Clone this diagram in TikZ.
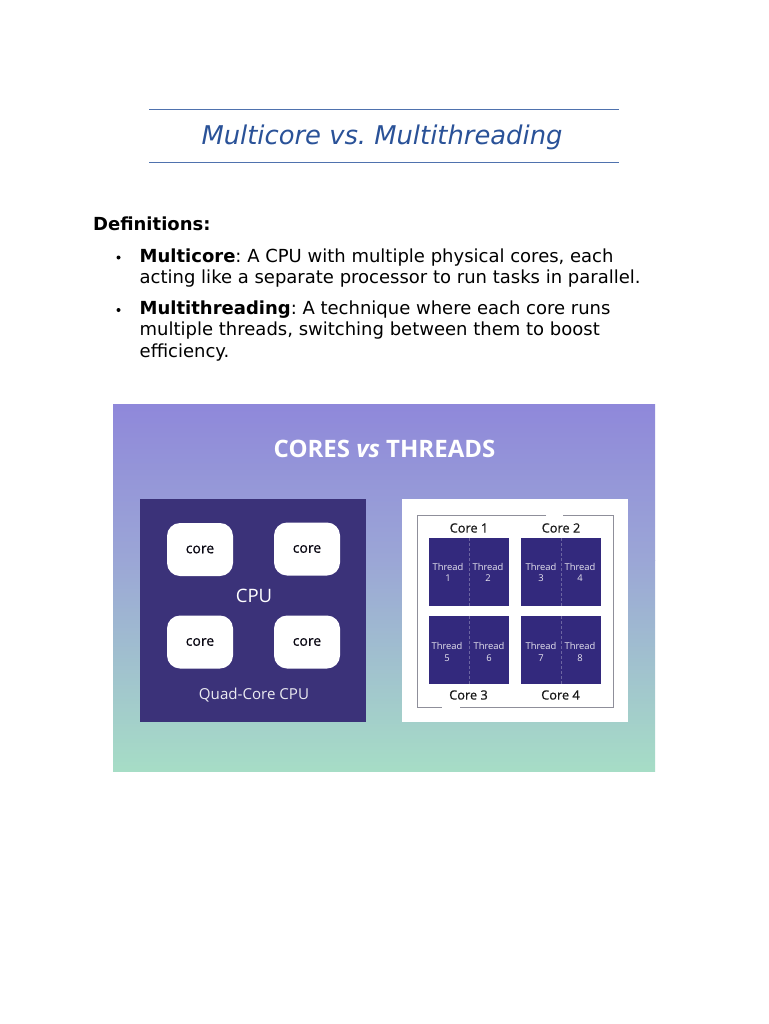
\documentclass[tikz,border=0pt]{standalone}
\usepackage{fontspec}
\setmainfont{DejaVu Sans}
\newfontfamily\openfont{Open Sans}
\newfontfamily\openheavy[FakeBold=0.6]{Open Sans}
\frenchspacing
\definecolor{titleblue}{HTML}{2A5298}
\definecolor{rulecolor}{HTML}{4F72AE}
\definecolor{panelblue}{HTML}{3B3279}
\definecolor{threadblue}{HTML}{33297D}
\definecolor{framegray}{HTML}{8F8F9A}
\definecolor{gradtop}{HTML}{8F88DA}
\definecolor{gradmid}{HTML}{9BA6D6}
\definecolor{gradbot}{HTML}{A6DDC6}
\tikzset{
    bodytext/.style={anchor=base west, inner sep=0pt, font=\fontsize{18}{22}\selectfont},
    bulletmark/.style={circle, fill=black, inner sep=0pt, minimum size=4pt},
    corebox/.style={fill=white, rounded corners=13pt, minimum width=66pt, minimum height=53pt, inner sep=0pt, text=black!85!panelblue, font=\openheavy\fontsize{14}{16}\selectfont},
    threadbox/.style={fill=threadblue, minimum width=80pt, minimum height=68pt, inner sep=0pt},
    threadtext/.style={text=white!88!threadblue, align=center, inner sep=0pt, font=\openfont\fontsize{9.4}{11.5}\selectfont},
    corelabel/.style={text=black!90, inner sep=0pt, font=\openheavy\fontsize{12.8}{14}\selectfont},
    threadsplit/.style={draw=white!28!threadblue, densely dashed, line width=0.4pt},
}
\begin{document}
\begin{tikzpicture}[x=1pt, y=-1pt]
    \useasboundingbox (0,0) rectangle (768,1024);
    \fill[white] (0,0) rectangle (768,1024);

    % heading
    \coordinate (ruleAl) at (149,109.5);
    \coordinate (ruleAr) at (618.5,109.5);
    \coordinate (ruleBl) at (149,163);
    \coordinate (ruleBr) at (618.5,163);
    \draw[rulecolor, line width=1pt] (ruleAl) -- (ruleAr);
    \draw[rulecolor, line width=1pt] (ruleBl) -- (ruleBr);
    \node[text=titleblue, inner sep=0pt, font=\itshape\fontsize{25.8}{28}\selectfont] (heading) at (382,137.5) {Multicore vs. Multithreading};

    % definitions
    \node[bodytext] (defs) at (93,230) {\textbf{Definitions:}};
    \node[bulletmark] (bulletA) at (118.5,257.5) {};
    \node[bodytext] (coreA) at (139.5,262) {\textbf{Multicore}: A CPU with multiple physical cores, each};
    \node[bodytext] (coreB) at (139.5,283) {acting like a separate processor to run tasks in parallel.};
    \node[bulletmark] (bulletB) at (118.5,310) {};
    \node[bodytext] (threadA) at (139.5,314) {\textbf{Multithreading}: A technique where each core runs};
    \node[bodytext] (threadB) at (139.5,335) {multiple threads, switching between them to boost};
    \node[bodytext] (threadC) at (139.5,357) {efficiency.};

    % backdrop
    \fill[top color=gradtop, bottom color=gradmid] (113,404) rectangle (655,560);
    \fill[top color=gradmid, bottom color=gradbot] (113,560) rectangle (655,771);
    \node[text=white, inner sep=0pt, font=\openfont\bfseries\fontsize{24}{26}\selectfont] (banner) at (384.5,449) {CORES \textit{vs} THREADS};

    % left panel
    \fill[panelblue] (140,499) rectangle (366,722);
    \node[corebox] (coreTL) at (200,549.5) {core};
    \node[corebox] (coreTR) at (307,549) {core};
    \node[corebox] (coreBL) at (200,642) {core};
    \node[corebox] (coreBR) at (307,642) {core};
    \node[text=white, inner sep=0pt, font=\openfont\fontsize{18.5}{20}\selectfont] (cpu) at (254,596) {CPU};
    \node[text=white!90!panelblue, inner sep=0pt, font=\openfont\fontsize{15.1}{17}\selectfont] (quad) at (254,695) {Quad-Core CPU};

    % right panel
    \fill[white] (402,499) rectangle (628,722);
    \draw[framegray, line width=1pt] (546,515) -- (417,515) -- (417,707) -- (442,707);
    \draw[framegray, line width=1pt] (563,515) -- (613,515) -- (613,707) -- (460,707);

    \node[corelabel] (labelA) at (469,528) {Core 1};
    \node[corelabel] (labelB) at (561,528) {Core 2};
    \node[corelabel] (labelC) at (468.5,695) {Core 3};
    \node[corelabel] (labelD) at (560.5,695) {Core 4};

    \node[threadbox] (boxA) at (469,572) {};
    \node[threadbox] (boxB) at (561,572) {};
    \node[threadbox] (boxC) at (469,650) {};
    \node[threadbox] (boxD) at (561,650) {};
    \draw[threadsplit] (boxA.north) -- (boxA.south);
    \draw[threadsplit] (boxB.north) -- (boxB.south);
    \draw[threadsplit] (boxC.north) -- (boxC.south);
    \draw[threadsplit] (boxD.north) -- (boxD.south);

    \node[threadtext] (threadOne) at (448,572.5) {Thread\\1};
    \node[threadtext] (threadTwo) at (488,572.5) {Thread\\2};
    \node[threadtext] (threadThree) at (541,572.5) {Thread\\3};
    \node[threadtext] (threadFour) at (580,572.5) {Thread\\4};
    \node[threadtext] (threadFive) at (447,652) {Thread\\5};
    \node[threadtext] (threadSix) at (489,652) {Thread\\6};
    \node[threadtext] (threadSeven) at (541,652) {Thread\\7};
    \node[threadtext] (threadEight) at (580,652) {Thread\\8};
\end{tikzpicture}
\end{document}
